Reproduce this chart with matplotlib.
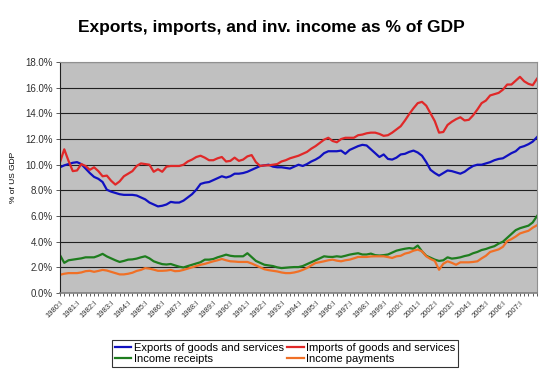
import matplotlib
matplotlib.use("Agg")
import matplotlib.pyplot as plt
import numpy as np
from matplotlib.ticker import FixedLocator, FuncFormatter

plt.rcParams['font.family'] = ['Liberation Sans', 'DejaVu Sans']

# quarterly, 1980:I .. 2008:I  (% of US GDP)
years = list(range(1980, 2008))
exports = [9.8, 9.95, 10.05, 10.15, 10.2, 10.05, 9.7, 9.35,
           9.05, 8.9, 8.65, 8.05, 7.9, 7.8, 7.7, 7.65,
           7.65, 7.65, 7.6, 7.45, 7.3, 7.05, 6.9, 6.75,
           6.8, 6.9, 7.1, 7.05, 7.05, 7.2, 7.45, 7.7,
           8.05, 8.5, 8.6, 8.65, 8.8, 8.95, 9.1, 9.0,
           9.1, 9.3, 9.3, 9.35, 9.45, 9.6, 9.75, 9.9,
           9.95, 10.0, 9.85, 9.8, 9.8, 9.75, 9.7, 9.85,
           10.0, 9.9, 10.05, 10.25, 10.4, 10.6, 10.9, 11.05,
           11.05, 11.05, 11.1, 10.85, 11.15, 11.3, 11.45, 11.55,
           11.5, 11.2, 10.9, 10.6, 10.8, 10.45, 10.4, 10.55,
           10.8, 10.85, 11.0, 11.1, 10.95, 10.7, 10.2, 9.6,
           9.35, 9.15, 9.35, 9.55, 9.5, 9.4, 9.3, 9.45,
           9.7, 9.9, 10.0, 10.0, 10.1, 10.2, 10.35, 10.45,
           10.5, 10.7, 10.9, 11.05, 11.35, 11.45, 11.6, 11.8,
           12.15]
imports = [10.2, 11.2, 10.3, 9.5, 9.55, 10.05, 9.9, 9.6,
           9.8, 9.5, 9.1, 9.15, 8.75, 8.45, 8.7, 9.1,
           9.3, 9.5, 9.9, 10.1, 10.05, 10.0, 9.45, 9.65,
           9.45, 9.85, 9.9, 9.9, 9.9, 10.0, 10.25, 10.4,
           10.6, 10.7, 10.55, 10.35, 10.35, 10.5, 10.6, 10.25,
           10.3, 10.55, 10.3, 10.4, 10.65, 10.75, 10.2, 9.9,
           9.95, 9.95, 10.0, 10.05, 10.25, 10.35, 10.5, 10.6,
           10.7, 10.85, 11.0, 11.25, 11.45, 11.7, 11.95, 12.1,
           11.85, 11.75, 12.0, 12.1, 12.1, 12.1, 12.3, 12.35,
           12.45, 12.5, 12.5, 12.4, 12.25, 12.3, 12.5, 12.75,
           13.0, 13.45, 13.95, 14.4, 14.8, 14.9, 14.6, 14.0,
           13.4, 12.5, 12.55, 13.1, 13.35, 13.55, 13.7, 13.45,
           13.5, 13.85, 14.3, 14.8, 15.0, 15.4, 15.5, 15.6,
           15.85, 16.25, 16.25, 16.55, 16.85, 16.5, 16.3, 16.2,
           16.7]
receipts = [2.95, 2.35, 2.55, 2.6, 2.65, 2.7, 2.78, 2.78,
            2.78, 2.9, 3.05, 2.85, 2.7, 2.55, 2.42, 2.5,
            2.6, 2.62, 2.68, 2.78, 2.86, 2.7, 2.47, 2.35,
            2.25, 2.22, 2.26, 2.15, 2.05, 1.99, 2.1, 2.2,
            2.3, 2.4, 2.6, 2.6, 2.65, 2.78, 2.88, 2.99,
            2.9, 2.86, 2.86, 2.86, 3.1, 2.8, 2.5, 2.35,
            2.2, 2.15, 2.1, 2.0, 1.94, 1.97, 2.0, 2.02,
            2.02, 2.1, 2.25, 2.4, 2.55, 2.7, 2.86, 2.82,
            2.81, 2.86, 2.82, 2.9, 2.99, 3.05, 3.1, 3.0,
            3.0, 3.07, 2.95, 2.92, 2.95, 3.0, 3.15, 3.3,
            3.38, 3.45, 3.5, 3.45, 3.7, 3.25, 2.9, 2.75,
            2.6, 2.5, 2.55, 2.78, 2.68, 2.72, 2.78, 2.88,
            2.95, 3.1, 3.2, 3.35, 3.43, 3.55, 3.65, 3.85,
            4.0, 4.3, 4.6, 4.9, 5.05, 5.15, 5.25, 5.5,
            6.0]
payments = [1.42, 1.5, 1.55, 1.55, 1.55, 1.6, 1.7, 1.73,
            1.65, 1.72, 1.8, 1.75, 1.65, 1.55, 1.45, 1.45,
            1.5, 1.58, 1.72, 1.8, 1.94, 1.9, 1.82, 1.73,
            1.73, 1.75, 1.8, 1.7, 1.72, 1.8, 1.9, 2.0,
            2.1, 2.2, 2.27, 2.37, 2.47, 2.55, 2.65, 2.55,
            2.47, 2.45, 2.42, 2.42, 2.42, 2.3, 2.15, 2.0,
            1.85, 1.78, 1.73, 1.68, 1.6, 1.55, 1.55, 1.6,
            1.68, 1.8, 1.95, 2.15, 2.34, 2.4, 2.47, 2.55,
            2.6, 2.52, 2.47, 2.55, 2.6, 2.7, 2.81, 2.81,
            2.81, 2.85, 2.86, 2.86, 2.86, 2.8, 2.73, 2.86,
            2.9, 3.07, 3.15, 3.3, 3.38, 3.25, 2.86, 2.65,
            2.5, 1.81, 2.28, 2.47, 2.35, 2.2, 2.39, 2.39,
            2.39, 2.42, 2.47, 2.7, 2.9, 3.2, 3.3, 3.4,
            3.6, 4.04, 4.2, 4.4, 4.64, 4.75, 4.85, 5.09,
            5.28]

names = ["Exports of goods and services", "Imports of goods and services",
         "Income receipts", "Income payments"]
colors = ["#1010C0", "#E02828", "#1E7D1E", "#F07026"]

fig = plt.figure(figsize=(5.47, 3.74), dpi=100)
ax = fig.add_axes([0.1097, 0.2166, 0.872, 0.6174])
ax.set_facecolor("#C0C0C0")

x = np.arange(len(exports))
lines = []
for ser, nm, c in zip([exports, imports, receipts, payments], names, colors):
    ln, = ax.plot(x, ser, color=c, lw=1.6, label=nm, solid_joinstyle='round')
    lines.append(ln)

ax.set_xlim(0, len(exports) - 1)
ax.set_ylim(0, 18)
ax.set_yticks(np.arange(0, 19, 2))
ax.yaxis.set_major_formatter(FuncFormatter(lambda v, p: "%.1f%%" % v))
ax.grid(axis='y', color='#202020', lw=0.8)
ax.set_axisbelow(True)

ax.xaxis.set_major_locator(FixedLocator(np.arange(0, 4 * len(years), 4)))
ax.xaxis.set_minor_locator(FixedLocator(x))
ax.set_xticklabels(["%d:I" % y for y in years], rotation=45, ha='right',
                   rotation_mode='anchor', fontsize=5.5)
ax.tick_params(axis='x', which='both', direction='out', length=2.5, width=0.6,
               colors='#404040', labelcolor='#303030', pad=2)
ax.tick_params(axis='y', length=3, width=0.6, labelsize=7, colors='#404040',
               labelcolor='#303030', pad=2)
for s in ['top', 'right']:
    ax.spines[s].set_color('#909090')
    ax.spines[s].set_linewidth(0.8)
ax.spines['left'].set_color('#202020')
ax.spines['bottom'].set_color('#808080')
ax.spines['bottom'].set_linewidth(1.2)

ax.set_ylabel("% of US GDP", fontsize=6, labelpad=6)

fig.text(0.496, 0.926, "Exports, imports, and inv. income as % of GDP",
         ha='center', va='center', fontsize=12.5, fontweight='bold')

order = [0, 2, 1, 3]
leg = fig.legend([lines[i] for i in order], [names[i] for i in order],
                 loc='center', bbox_to_anchor=(0.521, 0.055), ncol=2,
                 fontsize=8, frameon=True, fancybox=False, edgecolor='black',
                 handlelength=1.5, handletextpad=0.2, columnspacing=0.3,
                 borderpad=0.25, labelspacing=0.15)
leg.get_frame().set_linewidth(0.8)

fig.savefig("out.png", dpi=100)
